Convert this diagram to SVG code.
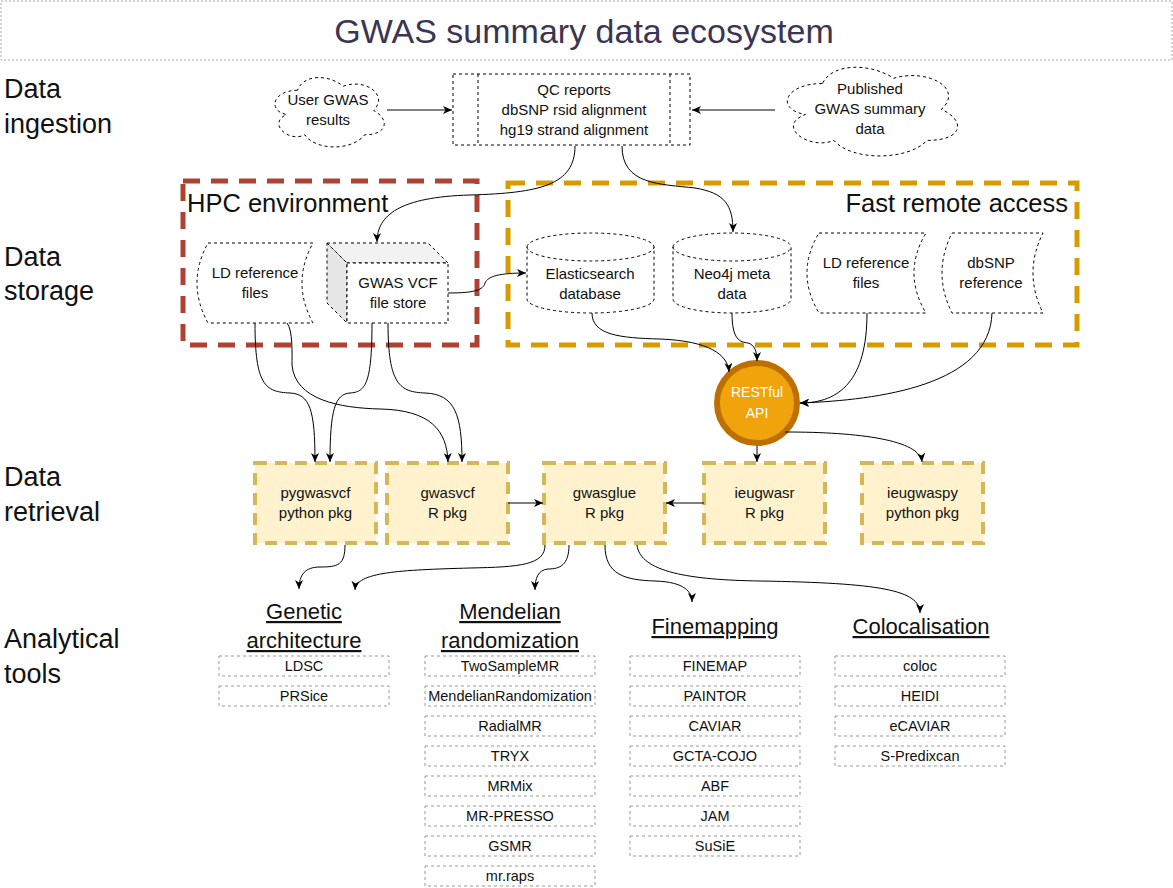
<svg xmlns="http://www.w3.org/2000/svg" width="1173" height="888" viewBox="0 0 1173 888">
<style>
text{font-family:"Liberation Sans",Arial,sans-serif;fill:#111;}
.lbl{font-size:27px;}
.nt{font-size:15px;text-anchor:middle;}
.tl{font-size:14.5px;text-anchor:middle;}
.hd{font-size:22px;text-anchor:middle;text-decoration:underline;}
.grp{font-size:25.5px;}
.dsh{fill:#fff;stroke:#000;stroke-width:1;stroke-dasharray:3 3;}
.pkg{fill:#fff2cc;stroke:#d6b656;stroke-width:4;stroke-dasharray:12 8;}
.tool{fill:#fff;stroke:#999;stroke-width:1;stroke-dasharray:3 3;}
.con path{fill:none;stroke:#000;stroke-width:1;marker-end:url(#arr);}
</style>
<defs>
<marker id="arr" markerUnits="userSpaceOnUse" markerWidth="10" markerHeight="10" refX="9" refY="4" orient="auto">
<path d="M0,0 L9,4 L0,8 L2.5,4 Z" fill="#000"/>
</marker>
</defs>
<rect width="1173" height="888" fill="#fff"/>

<g id="title">
<rect x="1" y="1" width="1171" height="59" fill="none" stroke="#a3a3c2" stroke-width="1" stroke-dasharray="2 2"/>
<text x="584" y="43" style="font-size:34px;text-anchor:middle;fill:#3b3552">GWAS summary data ecosystem</text>
</g>

<g id="row-labels">
<text class="lbl" x="4" y="98">Data</text>
<text class="lbl" x="4" y="133">ingestion</text>
<text class="lbl" x="4" y="266">Data</text>
<text class="lbl" x="4" y="300">storage</text>
<text class="lbl" x="4" y="486">Data</text>
<text class="lbl" x="4" y="521">retrieval</text>
<text class="lbl" x="4" y="648">Analytical</text>
<text class="lbl" x="4" y="683">tools</text>
</g>

<g id="hpc-group">
<rect x="183" y="181" width="294" height="164" fill="none" stroke="#ae4132" stroke-width="5" stroke-dasharray="17 11"/>
<text class="grp" x="187" y="212">HPC environment</text>
</g>
<g id="fast-group">
<rect x="508" y="183" width="569" height="162" fill="none" stroke="#d79b00" stroke-width="5" stroke-dasharray="17 11"/>
<text class="grp" x="1068" y="212" text-anchor="end">Fast remote access</text>
</g>

<g id="user-gwas">
<path class="dsh" d="M297.5,90.25 C273.1,90.25 267,110.5 286.5,114.55 C267,123.5 289,142.9 304.8,134.8 C315.8,151 352.4,151 364.6,134.8 C389,134.8 389,118.6 373.75,110.5 C389,94.3 364.6,78.1 343.25,86.2 C328,74.05 303.6,74.05 297.5,90.25 Z"/>
<text class="nt" x="328" y="105">User GWAS</text>
<text class="nt" x="328" y="125">results</text>
</g>

<g id="published-gwas">
<path class="dsh" d="M822.5,83.5 C784.5,83.5 775,109.35 805.4,114.5 C775,125.9 809.2,150.75 833.9,140.4 C851,161.1 908,161.1 927,140.4 C965,140.4 965,119.7 941.25,109.35 C965,88.6 927,67.95 893.75,78.3 C870,62.8 832,62.8 822.5,83.5 Z"/>
<text class="nt" x="870" y="94">Published</text>
<text class="nt" x="870" y="114">GWAS summary</text>
<text class="nt" x="870" y="134">data</text>
</g>

<g id="qc">
<rect class="dsh" x="453" y="74" width="237" height="71"/>
<line x1="478" y1="74" x2="478" y2="145" stroke="#000" stroke-dasharray="3 3"/>
<line x1="670" y1="74" x2="670" y2="145" stroke="#000" stroke-dasharray="3 3"/>
<text class="nt" x="574" y="95">QC reports</text>
<text class="nt" x="574" y="115">dbSNP rsid alignment</text>
<text class="nt" x="574" y="135">hg19 strand alignment</text>
</g>

<g id="ld-hpc">
<path class="dsh" d="M208,243 L313,243 Q291,283 313,323 L208,323 Q186,283 208,243 Z"/>
<text class="nt" x="255" y="278">LD reference</text>
<text class="nt" x="255" y="298">files</text>
</g>

<g id="vcf-store">
<path d="M327,243 L428,243 L448,263 L347,263 Z" fill="#f2f2f2" stroke="#000" stroke-dasharray="3 3"/>
<path d="M327,243 L347,263 L347,323 L327,303 Z" fill="#e6e6e6" stroke="#000" stroke-dasharray="3 3"/>
<rect class="dsh" x="347" y="263" width="101" height="60"/>
<text class="nt" x="398" y="288">GWAS VCF</text>
<text class="nt" x="398" y="308">file store</text>
</g>

<g id="elastic">
<path class="dsh" d="M527,247 A63.5,14 0 0 1 654,247 L654,299 A63.5,14 0 0 1 527,299 Z"/>
<path d="M527,247 A63.5,14 0 0 0 654,247" fill="none" stroke="#000" stroke-dasharray="3 3"/>
<text class="nt" x="590" y="279">Elasticsearch</text>
<text class="nt" x="590" y="299">database</text>
</g>

<g id="neo4j">
<path class="dsh" d="M673,247 A59,14 0 0 1 791,247 L791,299 A59,14 0 0 1 673,299 Z"/>
<path d="M673,247 A59,14 0 0 0 791,247" fill="none" stroke="#000" stroke-dasharray="3 3"/>
<text class="nt" x="732" y="279">Neo4j meta</text>
<text class="nt" x="732" y="299">data</text>
</g>

<g id="ld-fast">
<path class="dsh" d="M819,233 L926,233 Q902,273 926,313 L819,313 Q795,273 819,233 Z"/>
<text class="nt" x="866" y="268">LD reference</text>
<text class="nt" x="866" y="288">files</text>
</g>

<g id="dbsnp">
<path class="dsh" d="M952,233 L1043,233 Q1023,273 1043,313 L952,313 Q932,273 952,233 Z"/>
<text class="nt" x="991" y="268">dbSNP</text>
<text class="nt" x="991" y="288">reference</text>
</g>

<g id="api">
<circle cx="757" cy="403" r="40" fill="#f0a30a" stroke="#bd7000" stroke-width="6"/>
<text class="nt" x="757" y="397" style="font-size:14px;fill:#fff">RESTful</text>
<text class="nt" x="757" y="418" style="font-size:14px;fill:#fff">API</text>
</g>

<g id="pygwasvcf">
<rect class="pkg" x="255" y="463" width="121" height="80"/>
<text class="nt" x="315.5" y="498">pygwasvcf</text>
<text class="nt" x="315.5" y="518">python pkg</text>
</g>
<g id="gwasvcf">
<rect class="pkg" x="387" y="463" width="121" height="80"/>
<text class="nt" x="447.5" y="498">gwasvcf</text>
<text class="nt" x="447.5" y="518">R pkg</text>
</g>
<g id="gwasglue">
<rect class="pkg" x="544" y="463" width="121" height="80"/>
<text class="nt" x="604.5" y="498">gwasglue</text>
<text class="nt" x="604.5" y="518">R pkg</text>
</g>
<g id="ieugwasr">
<rect class="pkg" x="704" y="463" width="121" height="80"/>
<text class="nt" x="764.5" y="498">ieugwasr</text>
<text class="nt" x="764.5" y="518">R pkg</text>
</g>
<g id="ieugwaspy">
<rect class="pkg" x="862" y="463" width="121" height="80"/>
<text class="nt" x="922.5" y="498">ieugwaspy</text>
<text class="nt" x="922.5" y="518">python pkg</text>
</g>

<g id="genetic-architecture">
<text class="hd" x="304" y="619">Genetic</text>
<text class="hd" x="304" y="648">architecture</text>
<rect class="tool" x="219" y="656" width="170" height="20"/><text class="tl" x="304" y="671">LDSC</text>
<rect class="tool" x="219" y="686" width="170" height="20"/><text class="tl" x="304" y="701">PRSice</text>
</g>

<g id="mendelian-randomization">
<text class="hd" x="510" y="619">Mendelian</text>
<text class="hd" x="510" y="648">randomization</text>
<rect class="tool" x="425" y="656" width="170" height="20"/><text class="tl" x="510" y="671">TwoSampleMR</text>
<rect class="tool" x="425" y="686" width="170" height="20"/><text class="tl" x="510" y="701">MendelianRandomization</text>
<rect class="tool" x="425" y="716" width="170" height="20"/><text class="tl" x="510" y="731">RadialMR</text>
<rect class="tool" x="425" y="746" width="170" height="20"/><text class="tl" x="510" y="761">TRYX</text>
<rect class="tool" x="425" y="776" width="170" height="20"/><text class="tl" x="510" y="791">MRMix</text>
<rect class="tool" x="425" y="806" width="170" height="20"/><text class="tl" x="510" y="821">MR-PRESSO</text>
<rect class="tool" x="425" y="836" width="170" height="20"/><text class="tl" x="510" y="851">GSMR</text>
<rect class="tool" x="425" y="866" width="170" height="20"/><text class="tl" x="510" y="881">mr.raps</text>
</g>

<g id="finemapping">
<text class="hd" x="715" y="634">Finemapping</text>
<rect class="tool" x="630" y="656" width="170" height="20"/><text class="tl" x="715" y="671">FINEMAP</text>
<rect class="tool" x="630" y="686" width="170" height="20"/><text class="tl" x="715" y="701">PAINTOR</text>
<rect class="tool" x="630" y="716" width="170" height="20"/><text class="tl" x="715" y="731">CAVIAR</text>
<rect class="tool" x="630" y="746" width="170" height="20"/><text class="tl" x="715" y="761">GCTA-COJO</text>
<rect class="tool" x="630" y="776" width="170" height="20"/><text class="tl" x="715" y="791">ABF</text>
<rect class="tool" x="630" y="806" width="170" height="20"/><text class="tl" x="715" y="821">JAM</text>
<rect class="tool" x="630" y="836" width="170" height="20"/><text class="tl" x="715" y="851">SuSiE</text>
</g>

<g id="colocalisation">
<text class="hd" x="921" y="634">Colocalisation</text>
<rect class="tool" x="835" y="656" width="170" height="20"/><text class="tl" x="920" y="671">coloc</text>
<rect class="tool" x="835" y="686" width="170" height="20"/><text class="tl" x="920" y="701">HEIDI</text>
<rect class="tool" x="835" y="716" width="170" height="20"/><text class="tl" x="920" y="731">eCAVIAR</text>
<rect class="tool" x="835" y="746" width="170" height="20"/><text class="tl" x="920" y="761">S-Predixcan</text>
</g>

<g id="connectors" class="con">
<path d="M387,110 L452,110"/>
<path d="M775,110 L692,110"/>
<path d="M575,146 C575,185 540,193 470,195 C400,197 377,215 377,242"/>
<path d="M622,146 C622,185 660,184 695,188 C725,193 733,205 733,232"/>
<path d="M448,293 C475,293 483,290 485,283 C488,276 500,273 526,273"/>
<path d="M592,313 C592,335 620,338 660,339 C710,341 728,355 729,372"/>
<path d="M732,313 C732,340 740,342 748,343 C755,345 757,352 757,361"/>
<path d="M867,313 C867,380 840,403 800,403"/>
<path d="M992,313 C990,385 880,400 800,403"/>
<path d="M757,446 L757,462"/>
<path d="M785,432 C860,432 920,440 922,462"/>
<path d="M255,323 C255,385 265,392 290,393 C310,394 315,410 315,462"/>
<path d="M287,323 C293,330 292,355 292,365 C295,400 340,408 380,409 C430,410 447,430 448,462"/>
<path d="M372,323 C372,385 365,392 350,393 C335,394 330,410 330,462"/>
<path d="M388,323 C388,385 400,392 425,393 C455,394 462,415 462,462"/>
<path d="M508,503 L543,503"/>
<path d="M704,503 L666,503"/>
<path d="M345,545 C345,565 338,567 320,567 C305,567 299,575 299,589"/>
<path d="M545,545 C545,565 520,567 470,568 C400,570 356,572 355,590"/>
<path d="M569,545 C569,565 560,569 548,569 C538,570 535,578 535,590"/>
<path d="M605,545 C605,575 625,580 655,581 C685,582 692,592 692,602"/>
<path d="M637,545 C640,572 690,580 760,581 C880,583 920,590 920,613"/>
</g>
</svg>
